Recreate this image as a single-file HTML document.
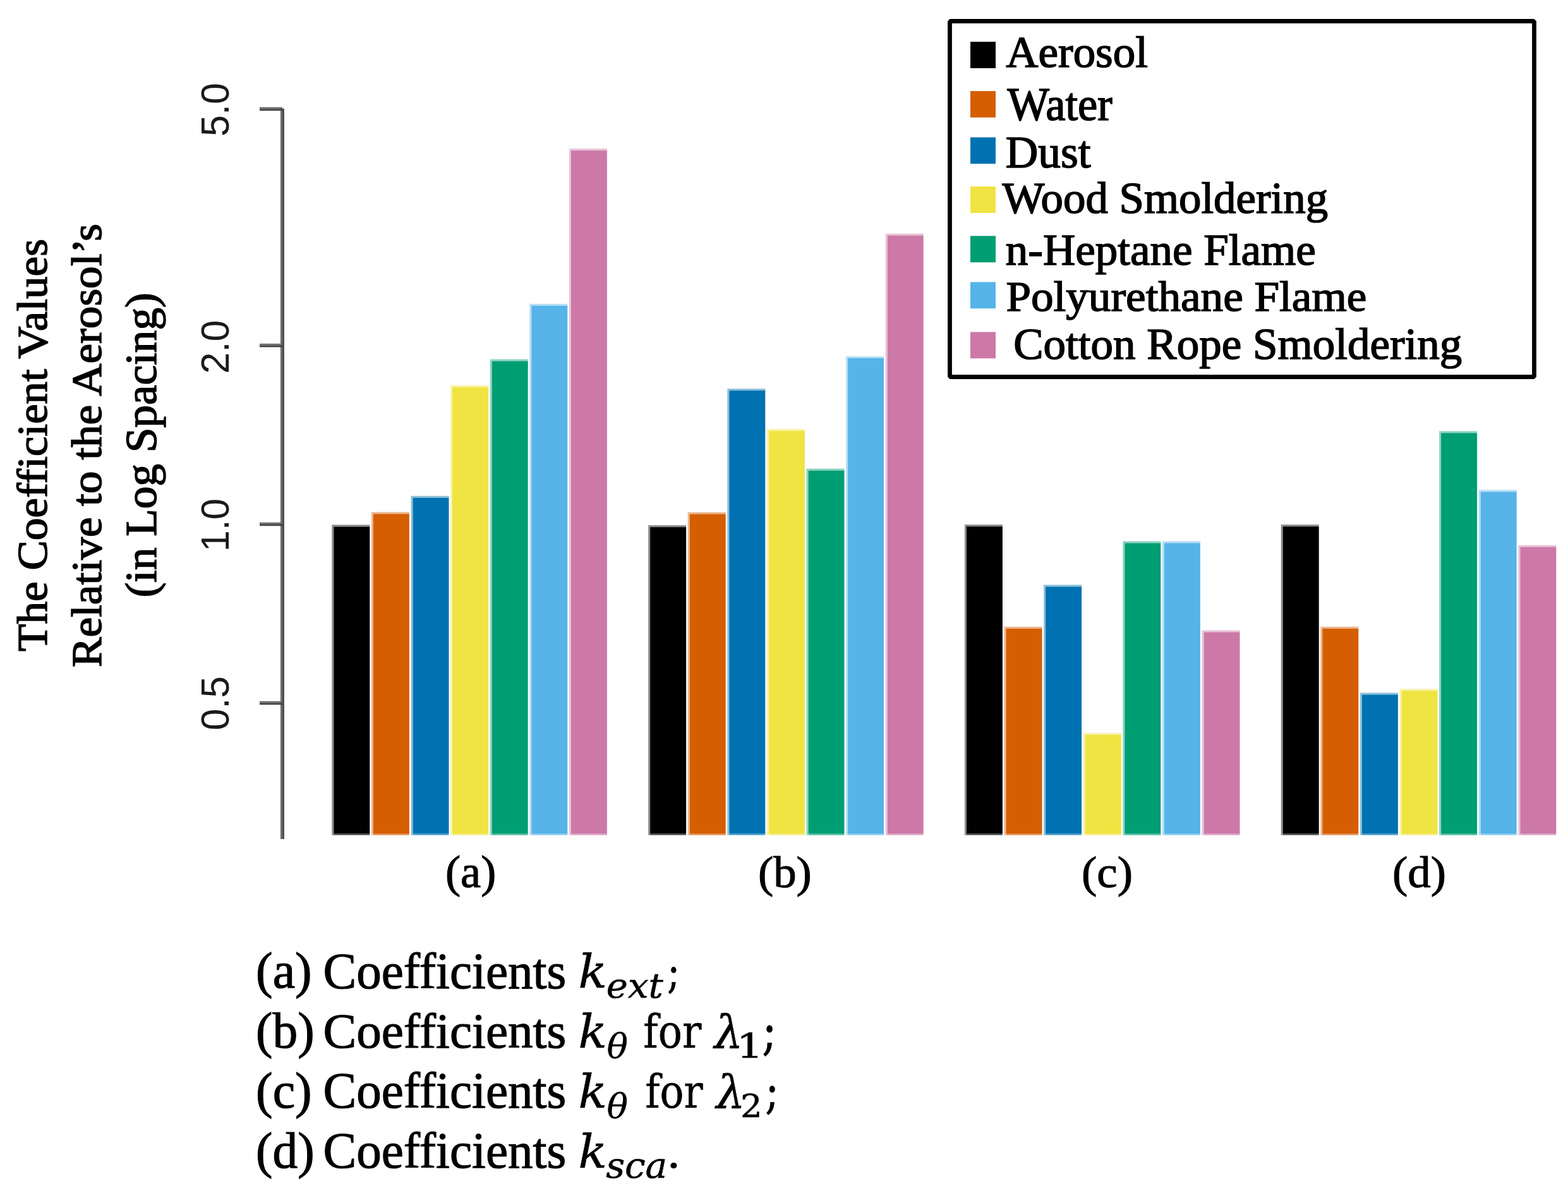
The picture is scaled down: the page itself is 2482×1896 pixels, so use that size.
<!DOCTYPE html>
<html><head><meta charset="utf-8"><title>Coefficient values relative to aerosol</title>
<style>html,body{margin:0;padding:0;background:#ffffff;overflow:hidden;} svg{display:block;}</style>
</head><body>
<svg width="2482" height="1896" viewBox="0 0 2482 1896">
<rect x="0" y="0" width="2482" height="1896" fill="#ffffff"/>
<g id="bars">
<rect x="528.3" y="833.5" width="57.0" height="485.5" fill="#000000"/>
<rect x="525.3" y="830.5" width="3" height="491.2" fill="#000000" fill-opacity="0.45"/>
<rect x="528.3" y="830.5" width="57.0" height="3" fill="#000000" fill-opacity="0.45"/>
<rect x="528.3" y="1319.0" width="57.0" height="2.7" fill="#000000" fill-opacity="0.7"/>
<rect x="590.9" y="813.4" width="57.0" height="505.6" fill="#D55E00"/>
<rect x="587.9" y="810.4" width="3" height="511.3" fill="#D55E00" fill-opacity="0.45"/>
<rect x="590.9" y="810.4" width="57.0" height="3" fill="#D55E00" fill-opacity="0.45"/>
<rect x="590.9" y="1319.0" width="57.0" height="2.7" fill="#D55E00" fill-opacity="0.7"/>
<rect x="653.5" y="787.8" width="57.0" height="531.2" fill="#0072B2"/>
<rect x="650.5" y="784.8" width="3" height="536.9" fill="#0072B2" fill-opacity="0.45"/>
<rect x="653.5" y="784.8" width="57.0" height="3" fill="#0072B2" fill-opacity="0.45"/>
<rect x="653.5" y="1319.0" width="57.0" height="2.7" fill="#0072B2" fill-opacity="0.7"/>
<rect x="716.1" y="612.6" width="57.0" height="706.4" fill="#F0E442"/>
<rect x="713.1" y="609.6" width="3" height="712.1" fill="#F0E442" fill-opacity="0.45"/>
<rect x="716.1" y="609.6" width="57.0" height="3" fill="#F0E442" fill-opacity="0.45"/>
<rect x="716.1" y="1319.0" width="57.0" height="2.7" fill="#F0E442" fill-opacity="0.7"/>
<rect x="778.7" y="571.5" width="57.0" height="747.5" fill="#009E73"/>
<rect x="775.7" y="568.5" width="3" height="753.2" fill="#009E73" fill-opacity="0.45"/>
<rect x="778.7" y="568.5" width="57.0" height="3" fill="#009E73" fill-opacity="0.45"/>
<rect x="778.7" y="1319.0" width="57.0" height="2.7" fill="#009E73" fill-opacity="0.7"/>
<rect x="841.3" y="483.9" width="57.0" height="835.1" fill="#56B4E9"/>
<rect x="838.3" y="480.9" width="3" height="840.8" fill="#56B4E9" fill-opacity="0.45"/>
<rect x="841.3" y="480.9" width="57.0" height="3" fill="#56B4E9" fill-opacity="0.45"/>
<rect x="841.3" y="1319.0" width="57.0" height="2.7" fill="#56B4E9" fill-opacity="0.7"/>
<rect x="903.9" y="238.2" width="57.0" height="1080.8" fill="#CC79A7"/>
<rect x="900.9" y="235.2" width="3" height="1086.5" fill="#CC79A7" fill-opacity="0.45"/>
<rect x="903.9" y="235.2" width="57.0" height="3" fill="#CC79A7" fill-opacity="0.45"/>
<rect x="903.9" y="1319.0" width="57.0" height="2.7" fill="#CC79A7" fill-opacity="0.7"/>
<rect x="1029.1" y="834.2" width="57.0" height="484.8" fill="#000000"/>
<rect x="1026.1" y="831.2" width="3" height="490.5" fill="#000000" fill-opacity="0.45"/>
<rect x="1029.1" y="831.2" width="57.0" height="3" fill="#000000" fill-opacity="0.45"/>
<rect x="1029.1" y="1319.0" width="57.0" height="2.7" fill="#000000" fill-opacity="0.7"/>
<rect x="1091.7" y="813.6" width="57.0" height="505.4" fill="#D55E00"/>
<rect x="1088.7" y="810.6" width="3" height="511.1" fill="#D55E00" fill-opacity="0.45"/>
<rect x="1091.7" y="810.6" width="57.0" height="3" fill="#D55E00" fill-opacity="0.45"/>
<rect x="1091.7" y="1319.0" width="57.0" height="2.7" fill="#D55E00" fill-opacity="0.7"/>
<rect x="1154.3" y="618.1" width="57.0" height="700.9" fill="#0072B2"/>
<rect x="1151.3" y="615.1" width="3" height="706.6" fill="#0072B2" fill-opacity="0.45"/>
<rect x="1154.3" y="615.1" width="57.0" height="3" fill="#0072B2" fill-opacity="0.45"/>
<rect x="1154.3" y="1319.0" width="57.0" height="2.7" fill="#0072B2" fill-opacity="0.7"/>
<rect x="1216.9" y="681.8" width="57.0" height="637.2" fill="#F0E442"/>
<rect x="1213.9" y="678.8" width="3" height="642.9" fill="#F0E442" fill-opacity="0.45"/>
<rect x="1216.9" y="678.8" width="57.0" height="3" fill="#F0E442" fill-opacity="0.45"/>
<rect x="1216.9" y="1319.0" width="57.0" height="2.7" fill="#F0E442" fill-opacity="0.7"/>
<rect x="1279.5" y="744.7" width="57.0" height="574.3" fill="#009E73"/>
<rect x="1276.5" y="741.7" width="3" height="580.0" fill="#009E73" fill-opacity="0.45"/>
<rect x="1279.5" y="741.7" width="57.0" height="3" fill="#009E73" fill-opacity="0.45"/>
<rect x="1279.5" y="1319.0" width="57.0" height="2.7" fill="#009E73" fill-opacity="0.7"/>
<rect x="1342.1" y="567.0" width="57.0" height="752.0" fill="#56B4E9"/>
<rect x="1339.1" y="564.0" width="3" height="757.7" fill="#56B4E9" fill-opacity="0.45"/>
<rect x="1342.1" y="564.0" width="57.0" height="3" fill="#56B4E9" fill-opacity="0.45"/>
<rect x="1342.1" y="1319.0" width="57.0" height="2.7" fill="#56B4E9" fill-opacity="0.7"/>
<rect x="1404.7" y="372.7" width="57.0" height="946.3" fill="#CC79A7"/>
<rect x="1401.7" y="369.7" width="3" height="952.0" fill="#CC79A7" fill-opacity="0.45"/>
<rect x="1404.7" y="369.7" width="57.0" height="3" fill="#CC79A7" fill-opacity="0.45"/>
<rect x="1404.7" y="1319.0" width="57.0" height="2.7" fill="#CC79A7" fill-opacity="0.7"/>
<rect x="1529.9" y="833.2" width="57.0" height="485.8" fill="#000000"/>
<rect x="1526.9" y="830.2" width="3" height="491.5" fill="#000000" fill-opacity="0.45"/>
<rect x="1529.9" y="830.2" width="57.0" height="3" fill="#000000" fill-opacity="0.45"/>
<rect x="1529.9" y="1319.0" width="57.0" height="2.7" fill="#000000" fill-opacity="0.7"/>
<rect x="1592.5" y="994.8" width="57.0" height="324.2" fill="#D55E00"/>
<rect x="1589.5" y="991.8" width="3" height="329.9" fill="#D55E00" fill-opacity="0.45"/>
<rect x="1592.5" y="991.8" width="57.0" height="3" fill="#D55E00" fill-opacity="0.45"/>
<rect x="1592.5" y="1319.0" width="57.0" height="2.7" fill="#D55E00" fill-opacity="0.7"/>
<rect x="1655.1" y="928.5" width="57.0" height="390.5" fill="#0072B2"/>
<rect x="1652.1" y="925.5" width="3" height="396.2" fill="#0072B2" fill-opacity="0.45"/>
<rect x="1655.1" y="925.5" width="57.0" height="3" fill="#0072B2" fill-opacity="0.45"/>
<rect x="1655.1" y="1319.0" width="57.0" height="2.7" fill="#0072B2" fill-opacity="0.7"/>
<rect x="1717.7" y="1162.9" width="57.0" height="156.1" fill="#F0E442"/>
<rect x="1714.7" y="1159.9" width="3" height="161.8" fill="#F0E442" fill-opacity="0.45"/>
<rect x="1717.7" y="1159.9" width="57.0" height="3" fill="#F0E442" fill-opacity="0.45"/>
<rect x="1717.7" y="1319.0" width="57.0" height="2.7" fill="#F0E442" fill-opacity="0.7"/>
<rect x="1780.3" y="859.5" width="57.0" height="459.5" fill="#009E73"/>
<rect x="1777.3" y="856.5" width="3" height="465.2" fill="#009E73" fill-opacity="0.45"/>
<rect x="1780.3" y="856.5" width="57.0" height="3" fill="#009E73" fill-opacity="0.45"/>
<rect x="1780.3" y="1319.0" width="57.0" height="2.7" fill="#009E73" fill-opacity="0.7"/>
<rect x="1842.9" y="859.5" width="57.0" height="459.5" fill="#56B4E9"/>
<rect x="1839.9" y="856.5" width="3" height="465.2" fill="#56B4E9" fill-opacity="0.45"/>
<rect x="1842.9" y="856.5" width="57.0" height="3" fill="#56B4E9" fill-opacity="0.45"/>
<rect x="1842.9" y="1319.0" width="57.0" height="2.7" fill="#56B4E9" fill-opacity="0.7"/>
<rect x="1905.5" y="1000.4" width="57.0" height="318.6" fill="#CC79A7"/>
<rect x="1902.5" y="997.4" width="3" height="324.3" fill="#CC79A7" fill-opacity="0.45"/>
<rect x="1905.5" y="997.4" width="57.0" height="3" fill="#CC79A7" fill-opacity="0.45"/>
<rect x="1905.5" y="1319.0" width="57.0" height="2.7" fill="#CC79A7" fill-opacity="0.7"/>
<rect x="2030.7" y="833.2" width="57.0" height="485.8" fill="#000000"/>
<rect x="2027.7" y="830.2" width="3" height="491.5" fill="#000000" fill-opacity="0.45"/>
<rect x="2030.7" y="830.2" width="57.0" height="3" fill="#000000" fill-opacity="0.45"/>
<rect x="2030.7" y="1319.0" width="57.0" height="2.7" fill="#000000" fill-opacity="0.7"/>
<rect x="2093.3" y="994.8" width="57.0" height="324.2" fill="#D55E00"/>
<rect x="2090.3" y="991.8" width="3" height="329.9" fill="#D55E00" fill-opacity="0.45"/>
<rect x="2093.3" y="991.8" width="57.0" height="3" fill="#D55E00" fill-opacity="0.45"/>
<rect x="2093.3" y="1319.0" width="57.0" height="2.7" fill="#D55E00" fill-opacity="0.7"/>
<rect x="2155.9" y="1099.4" width="57.0" height="219.6" fill="#0072B2"/>
<rect x="2152.9" y="1096.4" width="3" height="225.3" fill="#0072B2" fill-opacity="0.45"/>
<rect x="2155.9" y="1096.4" width="57.0" height="3" fill="#0072B2" fill-opacity="0.45"/>
<rect x="2155.9" y="1319.0" width="57.0" height="2.7" fill="#0072B2" fill-opacity="0.7"/>
<rect x="2218.5" y="1093.2" width="57.0" height="225.8" fill="#F0E442"/>
<rect x="2215.5" y="1090.2" width="3" height="231.5" fill="#F0E442" fill-opacity="0.45"/>
<rect x="2218.5" y="1090.2" width="57.0" height="3" fill="#F0E442" fill-opacity="0.45"/>
<rect x="2218.5" y="1319.0" width="57.0" height="2.7" fill="#F0E442" fill-opacity="0.7"/>
<rect x="2281.1" y="685.3" width="57.0" height="633.7" fill="#009E73"/>
<rect x="2278.1" y="682.3" width="3" height="639.4" fill="#009E73" fill-opacity="0.45"/>
<rect x="2281.1" y="682.3" width="57.0" height="3" fill="#009E73" fill-opacity="0.45"/>
<rect x="2281.1" y="1319.0" width="57.0" height="2.7" fill="#009E73" fill-opacity="0.7"/>
<rect x="2343.7" y="778.4" width="57.0" height="540.6" fill="#56B4E9"/>
<rect x="2340.7" y="775.4" width="3" height="546.3" fill="#56B4E9" fill-opacity="0.45"/>
<rect x="2343.7" y="775.4" width="57.0" height="3" fill="#56B4E9" fill-opacity="0.45"/>
<rect x="2343.7" y="1319.0" width="57.0" height="2.7" fill="#56B4E9" fill-opacity="0.7"/>
<rect x="2406.3" y="865.7" width="57.0" height="453.3" fill="#CC79A7"/>
<rect x="2403.3" y="862.7" width="3" height="459.0" fill="#CC79A7" fill-opacity="0.45"/>
<rect x="2406.3" y="862.7" width="57.0" height="3" fill="#CC79A7" fill-opacity="0.45"/>
<rect x="2406.3" y="1319.0" width="57.0" height="2.7" fill="#CC79A7" fill-opacity="0.7"/>
</g>
<g id="axis">
<rect x="443.9" y="171.9" width="3" height="1156.0" fill="#6c6c6c"/>
<rect x="446.9" y="171.9" width="3" height="1156.0" fill="#4a4a4a"/>
<rect x="411" y="169.6" width="36" height="2.8" fill="#6c6c6c"/>
<rect x="411" y="172.4" width="36" height="2.8" fill="#3e3e3e"/>
<rect x="411" y="543.8" width="36" height="2.8" fill="#6c6c6c"/>
<rect x="411" y="546.6" width="36" height="2.8" fill="#3e3e3e"/>
<rect x="411" y="826.8" width="36" height="2.8" fill="#6c6c6c"/>
<rect x="411" y="829.5" width="36" height="2.8" fill="#3e3e3e"/>
<rect x="411" y="1109.7" width="36" height="2.8" fill="#6c6c6c"/>
<rect x="411" y="1112.5" width="36" height="2.8" fill="#3e3e3e"/>
</g>
<g id="legend">
<rect x="1503.5" y="33.5" width="925" height="563" fill="none" stroke="#000" stroke-width="6.8" stroke-linejoin="bevel"/>
<rect x="1536" y="66.1" width="40" height="41.8" fill="#000000"/>
<rect x="1536" y="144.1" width="40" height="41.8" fill="#D55E00"/>
<rect x="1536" y="217.4" width="40" height="41.8" fill="#0072B2"/>
<rect x="1536" y="295.2" width="40" height="41.8" fill="#F0E442"/>
<rect x="1536" y="373.4" width="40" height="41.8" fill="#009E73"/>
<rect x="1536" y="446.4" width="40" height="41.8" fill="#56B4E9"/>
<rect x="1536" y="525.4" width="40" height="41.8" fill="#CC79A7"/>
</g>
<g id="text">
<text transform="translate(362.30,215.95) rotate(-90) scale(0.9840,1.0238)" font-family="Liberation Sans, Arial, Helvetica, sans-serif" font-size="62" fill="#1a1a1a">5.0</text>
<text transform="translate(362.30,591.45) rotate(-90) scale(0.9840,1.0238)" font-family="Liberation Sans, Arial, Helvetica, sans-serif" font-size="62" fill="#1a1a1a">2.0</text>
<text transform="translate(362.29,872.97) rotate(-90) scale(0.9747,1.0234)" font-family="Liberation Sans, Arial, Helvetica, sans-serif" font-size="62" fill="#1a1a1a">1.0</text>
<text transform="translate(362.30,1156.09) rotate(-90) scale(0.9975,1.0238)" font-family="Liberation Sans, Arial, Helvetica, sans-serif" font-size="62" fill="#1a1a1a">0.5</text>
<text transform="translate(73.70,1030.90) rotate(-90) scale(0.9957,0.9459)" font-family="Liberation Serif, Times New Roman, serif" font-size="71.4" fill="#000" stroke="#000" stroke-width="1.6">The Coefficient Values</text>
<text transform="translate(160.08,1056.00) rotate(-90) scale(0.9974,0.9604)" font-family="Liberation Serif, Times New Roman, serif" font-size="71.4" fill="#000" stroke="#000" stroke-width="1.6">Relative to the Aerosol’s</text>
<text transform="translate(247.22,945.59) rotate(-90) scale(0.9971,0.9864)" font-family="Liberation Serif, Times New Roman, serif" font-size="71.4" fill="#000" stroke="#000" stroke-width="1.6">(in Log Spacing)</text>
<text transform="translate(705.02,1403.68) scale(0.9770,0.9574)" font-family="Liberation Serif, Times New Roman, serif" font-size="74" fill="#000" stroke="#000" stroke-width="1.2">(a)</text>
<text transform="translate(1200.05,1403.75) scale(0.9827,0.9529)" font-family="Liberation Serif, Times New Roman, serif" font-size="74" fill="#000" stroke="#000" stroke-width="1.2">(b)</text>
<text transform="translate(1711.94,1403.75) scale(0.9868,0.9529)" font-family="Liberation Serif, Times New Roman, serif" font-size="74" fill="#000" stroke="#000" stroke-width="1.2">(c)</text>
<text transform="translate(2204.05,1403.75) scale(0.9840,0.9529)" font-family="Liberation Serif, Times New Roman, serif" font-size="74" fill="#000" stroke="#000" stroke-width="1.2">(d)</text>
<text transform="translate(1592.30,105.82) scale(0.9951,0.9769)" font-family="Liberation Serif, Times New Roman, serif" font-size="71.3" fill="#000" stroke="#000" stroke-width="1.6">Aerosol</text>
<text transform="translate(1594.49,189.74) scale(0.9865,1.0320)" font-family="Liberation Serif, Times New Roman, serif" font-size="71.3" fill="#000" stroke="#000" stroke-width="1.6">Water</text>
<text transform="translate(1591.80,264.89) scale(1.0007,1.0122)" font-family="Liberation Serif, Times New Roman, serif" font-size="71.3" fill="#000" stroke="#000" stroke-width="1.6">Dust</text>
<text transform="translate(1586.39,337.41) scale(0.9936,0.9746)" font-family="Liberation Serif, Times New Roman, serif" font-size="71.3" fill="#000" stroke="#000" stroke-width="1.6">Wood Smoldering</text>
<text transform="translate(1591.80,419.36) scale(0.9963,0.9776)" font-family="Liberation Serif, Times New Roman, serif" font-size="71.3" fill="#000" stroke="#000" stroke-width="1.6">n-Heptane Flame</text>
<text transform="translate(1592.40,491.74) scale(0.9977,0.9537)" font-family="Liberation Serif, Times New Roman, serif" font-size="71.3" fill="#000" stroke="#000" stroke-width="1.6">Polyurethane Flame</text>
<text transform="translate(1604.21,568.07) scale(0.9962,0.9896)" font-family="Liberation Serif, Times New Roman, serif" font-size="71.3" fill="#000" stroke="#000" stroke-width="1.6">Cotton Rope Smoldering</text>
<text transform="translate(405.04,1563.09) scale(0.9857,0.9890)" font-family="Liberation Serif, Times New Roman, serif" font-size="81" fill="#000" stroke="#000" stroke-width="1.2">(a)</text>
<text transform="translate(405.06,1657.89) scale(0.9807,0.9890)" font-family="Liberation Serif, Times New Roman, serif" font-size="81" fill="#000" stroke="#000" stroke-width="1.2">(b)</text>
<text transform="translate(405.04,1752.92) scale(0.9857,0.9986)" font-family="Liberation Serif, Times New Roman, serif" font-size="81" fill="#000" stroke="#000" stroke-width="1.2">(c)</text>
<text transform="translate(405.06,1847.61) scale(0.9807,0.9877)" font-family="Liberation Serif, Times New Roman, serif" font-size="81" fill="#000" stroke="#000" stroke-width="1.2">(d)</text>
<text transform="translate(511.47,1563.52) scale(0.9758,0.9793)" font-family="Liberation Serif, Times New Roman, serif" font-size="81" fill="#000" stroke="#000" stroke-width="1.2">Coefficients</text>
<text transform="translate(511.47,1658.12) scale(0.9758,0.9759)" font-family="Liberation Serif, Times New Roman, serif" font-size="81" fill="#000" stroke="#000" stroke-width="1.2">Coefficients</text>
<text transform="translate(511.47,1752.82) scale(0.9758,0.9793)" font-family="Liberation Serif, Times New Roman, serif" font-size="81" fill="#000" stroke="#000" stroke-width="1.2">Coefficients</text>
<text transform="translate(511.47,1848.12) scale(0.9758,0.9793)" font-family="Liberation Serif, Times New Roman, serif" font-size="81" fill="#000" stroke="#000" stroke-width="1.2">Coefficients</text>
<text transform="translate(915.46,1562.90) scale(1.0132,0.9825)" font-family="DejaVu Serif, serif" font-style="italic" font-size="74" fill="#000" stroke="#000" stroke-width="0.6">k</text>
<text transform="translate(915.46,1657.80) scale(1.0132,0.9772)" font-family="DejaVu Serif, serif" font-style="italic" font-size="74" fill="#000" stroke="#000" stroke-width="0.6">k</text>
<text transform="translate(915.46,1752.90) scale(1.0132,0.9825)" font-family="DejaVu Serif, serif" font-style="italic" font-size="74" fill="#000" stroke="#000" stroke-width="0.6">k</text>
<text transform="translate(915.46,1847.80) scale(1.0132,0.9772)" font-family="DejaVu Serif, serif" font-style="italic" font-size="74" fill="#000" stroke="#000" stroke-width="0.6">k</text>
<text transform="translate(959.84,1578.73) scale(1.0294,0.9667)" font-family="DejaVu Serif, serif" font-style="italic" font-size="56" fill="#000" stroke="#000" stroke-width="0.6">ext</text>
<text transform="translate(1056.04,1562.76) scale(0.8143,1.0179)" font-family="DejaVu Serif, serif" font-size="74" fill="#000" stroke="#000" stroke-width="0.6">;</text>
<text transform="translate(960.74,1673.72) scale(0.9800,0.9795)" font-family="DejaVu Serif, serif" font-style="italic" font-size="56" fill="#000" stroke="#000" stroke-width="0.6">θ</text>
<text transform="translate(1018.29,1657.63) scale(0.8566,0.9741)" font-family="DejaVu Serif, serif" font-size="74" fill="#000" stroke="#000" stroke-width="0.6">for</text>
<text transform="translate(1130.85,1658.60) scale(0.9738,0.9930)" font-family="DejaVu Serif, serif" font-style="italic" font-size="74" fill="#000" stroke="#000" stroke-width="0.6">λ</text>
<text transform="translate(1165.83,1675.28) scale(1.1955,0.9564)" font-family="DejaVu Serif, serif" font-size="56" fill="#000" stroke="#000" stroke-width="0.6">1</text>
<text transform="translate(1206.16,1659.99) scale(0.9357,1.1696)" font-family="DejaVu Serif, serif" font-size="74" fill="#000" stroke="#000" stroke-width="0.6">;</text>
<text transform="translate(960.74,1768.72) scale(0.9800,0.9795)" font-family="DejaVu Serif, serif" font-style="italic" font-size="56" fill="#000" stroke="#000" stroke-width="0.6">θ</text>
<text transform="translate(1021.19,1752.62) scale(0.8528,0.9776)" font-family="DejaVu Serif, serif" font-size="74" fill="#000" stroke="#000" stroke-width="0.6">for</text>
<text transform="translate(1133.76,1753.60) scale(0.9810,0.9930)" font-family="DejaVu Serif, serif" font-style="italic" font-size="74" fill="#000" stroke="#000" stroke-width="0.6">λ</text>
<text transform="translate(1172.12,1768.31) scale(0.9704,0.8930)" font-family="DejaVu Serif, serif" font-size="56" fill="#000" stroke="#000" stroke-width="0.6">2</text>
<text transform="translate(1211.31,1754.47) scale(0.8714,1.0893)" font-family="DejaVu Serif, serif" font-size="74" fill="#000" stroke="#000" stroke-width="0.6">;</text>
<text transform="translate(959.16,1863.99) scale(1.0393,1.0129)" font-family="DejaVu Serif, serif" font-style="italic" font-size="56" fill="#000" stroke="#000" stroke-width="0.6">sca</text>
<text transform="translate(1054.77,1847.70) scale(0.9900,0.9000)" font-family="DejaVu Serif, serif" font-size="74" fill="#000" stroke="#000" stroke-width="0.6">.</text>
</g>
</svg>
</body></html>
